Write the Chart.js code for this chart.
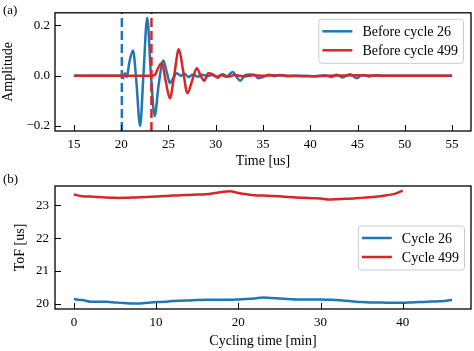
<!DOCTYPE html>
<html>
<head>
<meta charset="utf-8">
<script src="https://cdn.jsdelivr.net/npm/chart.js@4/dist/chart.umd.min.js"></script>
<style>
body { margin: 0; background: #fff; width: 474px; height: 351px; overflow: hidden; position: relative; font-family: "Liberation Serif", serif; }
#chartA { position: absolute; left: 0; top: 0; }
#chartB { position: absolute; left: 0; top: 170px; }
.tag { position: absolute; left: 3px; font-size: 13px; line-height: 13px; }
</style>
</head>
<body>
<canvas id="chartA" width="474" height="170"></canvas>
<canvas id="chartB" width="474" height="181"></canvas>
<div class="tag" style="top:3px">(a)</div>
<div class="tag" style="top:172px">(b)</div>
<script>
// (a) waveforms
const blueTime = [15, 20.0, 20.2, 20.4, 20.6, 20.85, 21.25, 21.6, 22.0, 22.35, 22.75, 23.15, 23.55, 23.95, 24.45, 24.85, 25.15, 25.5, 25.9, 26.3, 26.7, 27.1, 27.6, 28.1, 28.6, 29.1, 29.6, 30.1, 30.6, 31.1, 31.8, 32.2, 32.6, 33.1, 33.6, 34.1, 34.5, 35.0, 35.6, 36.2, 36.8, 37.5, 38.5, 39.5, 40.5, 41.5, 42.3, 42.8, 43.4, 44.2, 44.9, 45.5, 46.2, 47, 48, 50, 52, 55];
const blueAmp = [0, 0, -0.01, 0.01, -0.005, 0.05, 0.10, -0.02, -0.20, 0.0, 0.23, 0.0, -0.16, -0.04, 0.06, 0.01, -0.03, -0.01, 0.01, 0.0, 0.008, -0.005, 0.005, -0.004, 0.004, -0.002, 0.003, -0.003, 0.002, -0.004, 0.015, -0.005, -0.02, 0.002, 0.005, 0.004, -0.01, -0.006, 0.004, -0.002, 0.003, -0.002, 0.0, 0.0, -0.002, 0.002, -0.005, 0.004, -0.007, 0.006, -0.01, 0.003, -0.003, 0.002, 0, 0, 0, 0];
const redTime = [15, 23.3, 23.6, 23.9, 24.3, 24.7, 25.15, 25.6, 26.1, 26.55, 27.0, 27.5, 28.0, 28.4, 28.8, 29.2, 29.7, 30.2, 30.7, 31.3, 32, 33, 34, 35, 36, 38, 40, 42, 45, 48, 51, 55];
const redAmp = [0, 0, 0.005, 0.03, 0.05, -0.02, -0.09, 0.0, 0.105, 0.02, -0.07, -0.02, 0.03, 0.0, -0.02, 0.01, 0.005, -0.008, 0.006, -0.004, 0.003, -0.003, 0.002, 0, 0.002, 0, -0.002, 0, 0.002, 0, 0, 0];
const blueMarker = 20.07;
const redMarker = 23.2;
const timeTicks = [15, 20, 25, 30, 35, 40, 45, 50, 55];
const ampTicks = [-0.2, 0, 0.2];

// (b) time of flight
const cycle26Time = [0, 1, 2, 3, 4, 5, 6, 7, 8, 9, 10, 11, 12, 13, 14, 15, 16, 17, 18, 19, 20, 21, 22, 23, 24, 25, 26, 27, 28, 29, 30, 31, 32, 33, 34, 35, 36, 37, 38, 39, 40, 41, 42, 43, 44, 45, 46];
const cycle26Tof = [20.15, 20.12, 20.07, 20.07, 20.07, 20.05, 20.03, 20.02, 20.02, 20.04, 20.06, 20.07, 20.09, 20.1, 20.11, 20.12, 20.13, 20.13, 20.13, 20.13, 20.14, 20.15, 20.17, 20.2, 20.18, 20.17, 20.15, 20.14, 20.14, 20.14, 20.14, 20.13, 20.12, 20.1, 20.08, 20.06, 20.05, 20.05, 20.04, 20.04, 20.04, 20.05, 20.06, 20.07, 20.08, 20.09, 20.13];
const cycle499Time = [0, 1, 2, 3, 4, 5, 6, 7, 8, 9, 10, 11, 12, 13, 14, 15, 16, 17, 18, 19, 20, 21, 22, 23, 24, 25, 26, 27, 28, 29, 30, 31, 32, 33, 34, 35, 36, 37, 38, 39, 40];
const cycle499Tof = [23.32, 23.27, 23.26, 23.25, 23.23, 23.22, 23.22, 23.23, 23.24, 23.25, 23.26, 23.28, 23.29, 23.3, 23.31, 23.32, 23.33, 23.36, 23.4, 23.42, 23.37, 23.33, 23.3, 23.29, 23.28, 23.27, 23.25, 23.23, 23.22, 23.21, 23.2, 23.17, 23.18, 23.19, 23.2, 23.22, 23.24, 23.26, 23.3, 23.34, 23.44];
const cycTicks = [0, 10, 20, 30, 40];
const tofTicks = [20, 21, 22, 23];

const BLUE = '#1f77b4';
const RED = '#d62728';

Chart.defaults.font.family = '"Liberation Serif", serif';
Chart.defaults.font.size = 13;
Chart.defaults.color = '#000';

const pts = (xs, ys) => xs.map((x, i) => ({ x: x, y: ys[i] }));

// box, inward ticks
const frame = {
  id: 'frame',
  afterDraw(chart) {
    const ctx = chart.ctx, ca = chart.chartArea;
    ctx.save();
    ctx.strokeStyle = '#000';
    ctx.lineWidth = 1;
    const xs = chart.scales.x, ys = chart.scales.y;
    xs.ticks.forEach(t => {
      const px = Math.round(xs.getPixelForValue(t.value)) + 0.5;
      ctx.beginPath(); ctx.moveTo(px, ca.bottom); ctx.lineTo(px, ca.bottom - 6); ctx.stroke();
    });
    ys.ticks.forEach(t => {
      const py = Math.round(ys.getPixelForValue(t.value)) + 0.5;
      ctx.beginPath(); ctx.moveTo(ca.left, py); ctx.lineTo(ca.left + 6, py); ctx.stroke();
    });
    ctx.lineWidth = 1.3;
    ctx.strokeRect(ca.left, ca.top, ca.right - ca.left, ca.bottom - ca.top);
    ctx.restore();
  }
};

// matplotlib-like legend box
const boxLegend = {
  id: 'boxLegend',
  afterDraw(chart, args, opts) {
    const ctx = chart.ctx, ca = chart.chartArea;
    const items = chart.data.datasets.filter(d => d.label);
    ctx.save();
    ctx.font = '14px "Liberation Serif"';
    const tw = Math.max(...items.map(d => ctx.measureText(d.label).width));
    const rowH = 19;
    const w = 4 + 30 + 10 + tw + 5, h = items.length * rowH + 6;
    const x = ca.right - opts.right - w;
    const y = opts.middle ? (ca.top + ca.bottom) / 2 - h / 2 : ca.top + opts.top;
    ctx.fillStyle = 'rgba(255,255,255,0.85)';
    ctx.strokeStyle = '#cccccc';
    ctx.lineWidth = 1;
    ctx.beginPath();
    ctx.roundRect(x + 0.5, y + 0.5, w, h, 3);
    ctx.fill(); ctx.stroke();
    ctx.textBaseline = 'middle';
    items.forEach((d, i) => {
      const cy = y + 3 + rowH * (i + 0.5);
      ctx.strokeStyle = d.borderColor;
      ctx.lineWidth = 2.5;
      ctx.beginPath(); ctx.moveTo(x + 4, cy); ctx.lineTo(x + 34, cy); ctx.stroke();
      ctx.fillStyle = '#000';
      ctx.fillText(d.label, x + 44, cy + 1);
    });
    ctx.restore();
  }
};

function setTicks(arr) {
  return scale => { scale.ticks = arr.map(v => ({ value: v })); };
}

const titleFont = { size: 14 };

new Chart(document.getElementById('chartA'), {
  type: 'line',
  data: {
    datasets: [
      { label: 'Before cycle 26', data: pts(blueTime, blueAmp), borderColor: BLUE, borderWidth: 2.5, pointRadius: 0, cubicInterpolationMode: 'monotone', order: 2 },
      { label: 'Before cycle 499', data: pts(redTime, redAmp), borderColor: RED, borderWidth: 2.5, pointRadius: 0, cubicInterpolationMode: 'monotone', order: 1 },
      { data: [{ x: blueMarker, y: -0.22 }, { x: blueMarker, y: 0.25 }], borderColor: BLUE, borderWidth: 2.5, borderDash: [9, 4], pointRadius: 0, order: 3 },
      { data: [{ x: redMarker, y: -0.22 }, { x: redMarker, y: 0.25 }], borderColor: RED, borderWidth: 2.5, borderDash: [9, 4], pointRadius: 0, order: 0 }
    ]
  },
  options: {
    responsive: false,
    animation: false,
    layout: { padding: { top: 7, right: 3, left: 0, bottom: 0 } },
    plugins: { legend: { display: false }, tooltip: { enabled: false }, boxLegend: { right: 8, top: 6 } },
    scales: {
      x: {
        type: 'linear', min: 13, max: 57,
        afterBuildTicks: setTicks(timeTicks),
        afterFit: s => { s.height = 39; },
        grid: { display: false, drawTicks: false },
        border: { display: false },
        ticks: { padding: 6, maxRotation: 0, autoSkip: false },
        title: { display: true, text: 'Time [us]', font: titleFont, padding: { top: 0, bottom: 0 } }
      },
      y: {
        min: -0.22, max: 0.25,
        afterBuildTicks: setTicks(ampTicks),
        afterFit: s => { s.width = 55; },
        grid: { display: false, drawTicks: false },
        border: { display: false },
        ticks: { padding: 5, callback: v => v.toFixed(1).replace('-', '\u2212') },
        title: { display: true, text: 'Amplitude', font: titleFont, padding: { top: 0, bottom: 0 } }
      }
    }
  },
  plugins: [frame, boxLegend]
});

new Chart(document.getElementById('chartB'), {
  type: 'line',
  data: {
    datasets: [
      { label: 'Cycle 26', data: pts(cycle26Time, cycle26Tof), borderColor: BLUE, borderWidth: 2.5, pointRadius: 0, tension: 0.3 },
      { label: 'Cycle 499', data: pts(cycle499Time, cycle499Tof), borderColor: RED, borderWidth: 2.5, pointRadius: 0, tension: 0.3 }
    ]
  },
  options: {
    responsive: false,
    animation: false,
    layout: { padding: { top: 16, right: 3, left: 0, bottom: 0 } },
    plugins: { legend: { display: false }, tooltip: { enabled: false }, boxLegend: { right: 7, middle: true } },
    scales: {
      x: {
        type: 'linear', min: -2.3, max: 48.3,
        afterBuildTicks: setTicks(cycTicks),
        afterFit: s => { s.height = 42; },
        grid: { display: false, drawTicks: false },
        border: { display: false },
        ticks: { padding: 6, maxRotation: 0, autoSkip: false },
        title: { display: true, text: 'Cycling time [min]', font: titleFont, padding: { top: 0, bottom: 1 } }
      },
      y: {
        min: 19.85, max: 23.58,
        afterBuildTicks: setTicks(tofTicks),
        afterFit: s => { s.width = 55; },
        grid: { display: false, drawTicks: false },
        border: { display: false },
        ticks: { padding: 6 },
        title: { display: true, text: 'ToF [us]', font: titleFont, padding: { top: 12, bottom: 0 } }
      }
    }
  },
  plugins: [frame, boxLegend]
});
</script>
</body>
</html>
